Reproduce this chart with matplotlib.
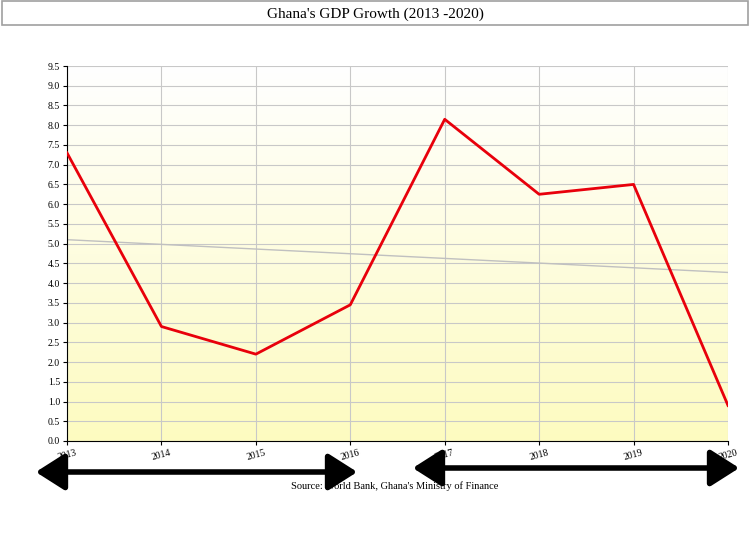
import matplotlib
matplotlib.use("Agg")
import matplotlib.pyplot as plt
import matplotlib.patches as mpatches
import numpy as np

years = [2013, 2014, 2015, 2016, 2017, 2018, 2019, 2020]
growth = [7.3, 2.9, 2.2, 3.45, 8.15, 6.25, 6.5, 0.9]
trend_ends = [5.1, 4.27]
source = "Source: World Bank, Ghana's Ministry of Finance"
title = "Ghana's GDP Growth (2013 -2020)"

plt.rcParams["font.family"] = ["Liberation Serif", "DejaVu Serif"]

fig = plt.figure(figsize=(7.5, 5.51), dpi=100)
ax = fig.add_axes([67 / 750, 1 - 441 / 551, 661 / 750, 375 / 551])

# background gradient: white at top, pale yellow at bottom
grad = np.linspace(0, 1, 256).reshape(-1, 1)
cmap = matplotlib.colors.LinearSegmentedColormap.from_list("bg", ["#fdfbc0", "#ffffff"])
ax.imshow(grad, extent=[years[0], years[-1], 0, 9.5], aspect="auto",
          cmap=cmap, origin="lower", zorder=0)

ax.plot([years[0], years[-1]], trend_ends, color="#c0c0c0", lw=1, zorder=2)
ax.plot(years, growth, color="#e8000b", lw=2, zorder=3)

ax.set_xlim(years[0], years[-1])
ax.set_ylim(0, 9.5)
ax.set_yticks(np.arange(0, 9.51, 0.5))
ax.set_yticklabels([f"{v:.1f}" for v in np.arange(0, 9.51, 0.5)], fontsize=7)
ax.set_xticks(years)
ax.set_xticklabels([str(y) for y in years], fontsize=7, rotation=15)
ax.grid(color="#c8c8c8", lw=0.8, zorder=1)
ax.set_axisbelow(True)
for s in ["top", "right"]:
    ax.spines[s].set_visible(False)
ax.tick_params(length=3, pad=2)

# title bar across the top
fig.add_artist(mpatches.Rectangle((2 / 750, 1 - 25 / 551), 746 / 750, 24 / 551,
                                  transform=fig.transFigure, fc="white",
                                  ec="#a0a0a0", lw=1.2))
fig.text(0.5, 1 - 14 / 551, title, ha="center", va="center", fontsize=11)
fig.text(395 / 750, 1 - 486 / 551, source, ha="center", va="center", fontsize=7.5)

for x0, x1, y in [(33, 360, 472), (410, 742, 468)]:
    fig.add_artist(mpatches.FancyArrowPatch(
        (x0 / 750, 1 - y / 551), (x1 / 750, 1 - y / 551),
        transform=fig.transFigure, arrowstyle="<|-|>,head_length=11,head_width=7",
        mutation_scale=1.6, color="black", lw=4))

fig.savefig("out.png", dpi=100)
